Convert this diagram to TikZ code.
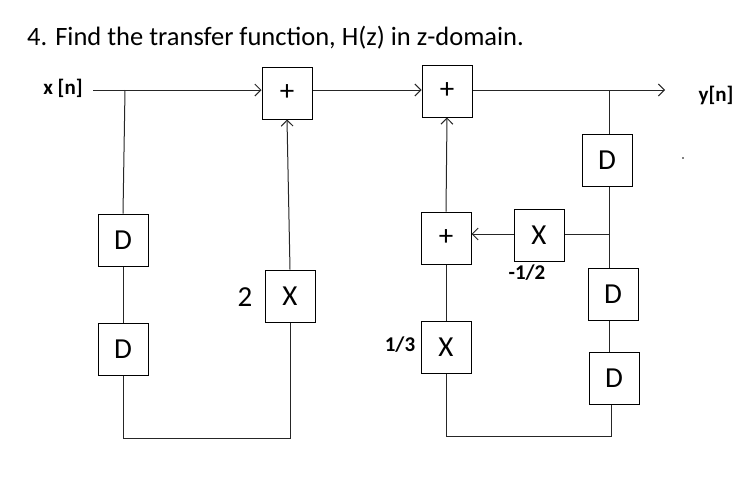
\documentclass[tikz,border=0pt]{standalone}
\usepackage{fontspec}
\setmainfont{Carlito}
\usetikzlibrary{arrows.meta}
\begin{document}
\begin{tikzpicture}[x=1pt,y=-1pt,
  blk/.style={draw,line width=1pt,minimum width=50pt,minimum height=52pt,inner sep=0pt,font=\fontsize{29}{30}\selectfont},
  lbl/.style={font=\bfseries\fontsize{21}{23}\selectfont,inner sep=0pt},
  ln/.style={line width=1pt,draw=black!85},
  ar/.style={ln,-{Straight Barb[length=6pt,width=12pt]}}]
\useasboundingbox (0,0) rectangle (754,480);
\node[anchor=west,inner sep=0pt,font=\fontsize{26.5}{28}\selectfont] (title) at (27,38) {4. Find the transfer function, H(z) in z-domain.};
\node[lbl] (xn) at (63,88) {x [n]};
\node[lbl] (yn) at (716,95) {y[n]};
\node[blk] (p1) at (287,93) {+};
\node[blk] (p2) at (447,91) {+};
\node[blk] (p3) at (446,238) {+};
\node[blk] (d1) at (123,240) {D};
\node[blk] (d2) at (123,349) {D};
\node[blk] (m2) at (290,296) {X};
\node[font=\fontsize{29}{30}\selectfont] (k2) at (245,297) {2};
\node[blk] (d3) at (607,160) {D};
\node[blk] (mh) at (539,235) {X};
\node[lbl] (kh) at (527,273) {-1/2};
\node[blk] (d4) at (613,294) {D};
\node[blk] (d5) at (614,378) {D};
\node[blk] (m3) at (446,347) {X};
\node[lbl] (k3) at (400,345) {1/3};
\coordinate (s1) at (93,90);
\coordinate (j1) at (125,90);
\coordinate (j2) at (609,90);
\coordinate (yo) at (665,90);
\coordinate (j3) at (609,234);
\coordinate (b1) at (123,438);
\coordinate (b2) at (290,438);
\coordinate (b3) at (446,436);
\coordinate (b4) at (611,436);
\draw[ar] (s1) -- (p1.west |- s1);
\draw[ln] (j1) -- (d1.north);
\draw[ln] (d1) -- (d2);
\draw[ln] (d2.south) -- (b1) -- (b2) -- (m2.south);
\draw[ar] (m2.north) -- (p1.south);
\draw[ar] (p1.east |- s1) -- (p2.west |- s1);
\draw[ar] (p2.east |- s1) -- (yo);
\draw[ln] (j2) -- (j2 |- d3.north);
\draw[ln] (j2 |- d3.south) -- (j2 |- d4.north);
\draw[ln] (j3) -- (mh.east |- j3);
\draw[ar] (mh.west |- j3) -- (p3.east |- j3);
\draw[ln] (d4.south -| j2) -- (d5.north -| j2);
\draw[ln] (d5.south -| b4) -- (b4) -- (b3) -- (m3.south);
\draw[ln] (m3.north) -- (p3.south);
\draw[ar] (p3.north) -- (p2.south);
\fill (683,158) circle (0.8pt);
\end{tikzpicture}
\end{document}
